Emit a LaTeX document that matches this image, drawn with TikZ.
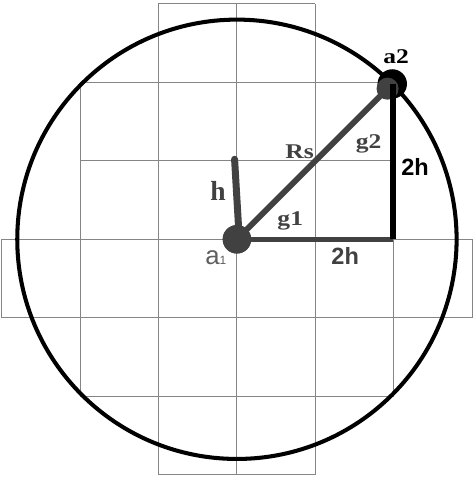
\documentclass[tikz,border=0pt]{standalone}
\usepackage{fontspec}
\setmainfont{Liberation Serif}
\setsansfont{Liberation Sans}
\usepackage{graphicx}
\usepackage{tikz}
\usetikzlibrary{positioning}
\definecolor{DarkLine}{HTML}{414141}
\definecolor{GridGray}{HTML}{858585}
\newcommand{\widelbl}[1]{\scalebox{1.22}[1]{#1}}

\begin{document}
\begin{tikzpicture}[scale=1.5,
        gridline/.style={GridGray, line width=0.55pt},
        dot/.style={circle, inner sep=0pt, fill=DarkLine, minimum size=15.5pt},
        serlbl/.style={font=\bfseries\fontsize{11.4}{12}\selectfont, text=DarkLine, inner sep=1pt},
        sanslbl/.style={font=\sffamily\bfseries\fontsize{12.8}{14}\selectfont, inner sep=1pt}]
        % Parameters
        \def\Rad{2.8}
        \useasboundingbox (-3.02,-3.03) rectangle (3.02,3.05);

        % 1. Grid of cells
        \draw[gridline] (-1,-3) grid (1,3);
        \draw[gridline] (-2,-2) grid (2,2);
        \draw[gridline] (-3,-1) grid (3,0);

        % 2. Outer circle
        \draw[line width=2.2pt] (0,0) circle (\Rad);

        % 3. Points
        \node[dot] (a1) at (0,0) {};
        \node[dot, fill=black, minimum size=16pt] (a2) at (1.98,1.98) {};
        \node[dot, minimum size=12pt] (a2in) at (1.92,1.92) {};
        \coordinate (corner) at (1.99,0);
        \coordinate (htop) at (-0.03,1.02);
        \coordinate (hbot) at (0.03,0);

        % 4. Segments
        \draw[DarkLine, line width=2.8pt] (a1.center) -- (corner);
        \draw[DarkLine, line width=3.2pt] (a1.center) -- (a2in.center);
        \draw[DarkLine, line width=3.8pt, line cap=round] (hbot) -- (htop);
        \draw[line width=3.3pt] (corner) -- (corner |- a2.center);
        \node[dot] at (a1) {};

        % 5. Labels
        \node[serlbl, font=\bfseries\fontsize{15}{16}\selectfont] (hlbl) at (-0.24,0.62) {h};
        \node[serlbl] (rs) at (0.80,1.11) {\widelbl{Rs}};
        \node[serlbl] (g2) at (1.68,1.22) {\widelbl{g2}};
        \node[serlbl] (g1) at (0.68,0.24) {\widelbl{g1}};
        \node[serlbl, text=black] (a2lbl) at (2.03,2.33) {\widelbl{a2}};
        \node[sanslbl] (vlbl) at (2.27,0.92) {2h};
        \node[sanslbl, text=DarkLine] (hlbl2) at (1.38,-0.21) {2h};
        \node[font=\sffamily\fontsize{14}{15}\selectfont, text=DarkLine!85, inner sep=1pt] (a1lbl) at (-0.27,-0.24)
            {a{\fontsize{6.5}{8}\selectfont 1}};

    \end{tikzpicture}
\end{document}
